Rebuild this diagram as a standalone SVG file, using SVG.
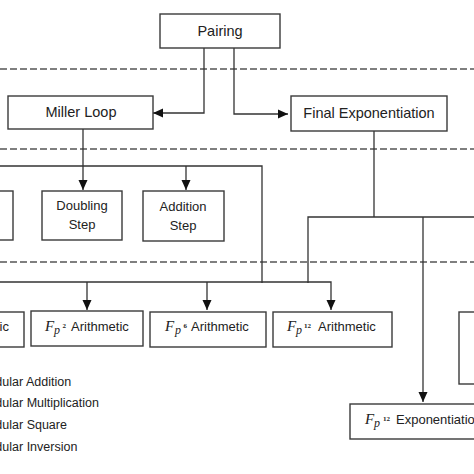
<svg xmlns="http://www.w3.org/2000/svg" width="474" height="474" viewBox="0 0 474 474">
<defs>
<marker id="ah" markerWidth="11" markerHeight="11" refX="10" refY="5" orient="auto" markerUnits="userSpaceOnUse">
<path d="M0,0.5 L10,5 L0,9.5 Z" fill="#111"/>
</marker>
<style>
.box{fill:#fff;stroke:#3a3a3a;stroke-width:1.4}
.t{font-family:"Liberation Sans",Arial,sans-serif;fill:#222}
.big{font-size:14.5px}
.mid{font-size:13px}
.m{font-family:"Liberation Serif","DejaVu Serif",serif;font-style:italic;fill:#222}
.sup{font-family:"Liberation Serif","DejaVu Serif",serif;font-weight:bold;fill:#222}
.dash{stroke:#555;stroke-width:1.4;stroke-dasharray:7,3;fill:none}
.con{stroke:#333;stroke-width:1.3;fill:none}
</style>
</defs>
<rect width="474" height="474" fill="#fff"/>
<g id="separators">
<line class="dash" x1="0" y1="69" x2="474" y2="69"/>
<line class="dash" x1="0" y1="149" x2="474" y2="149"/>
<line class="dash" x1="0" y1="262" x2="474" y2="262"/>
</g>
<g id="connectors">
<path class="con" d="M204,48 V113 H153" marker-end="url(#ah)"/>
<path class="con" d="M234,48 V114 H288" marker-end="url(#ah)"/>
<path class="con" d="M83,129 V190" marker-end="url(#ah)"/>
<path class="con" d="M-5,166 H262 V283"/>
<path class="con" d="M186,166 V190" marker-end="url(#ah)"/>
<path class="con" d="M374,131 V217"/>
<path class="con" d="M308,283 V217 H480"/>
<path class="con" d="M423,217 V402" marker-end="url(#ah)"/>
<path class="con" d="M-5,282 H331 V310" marker-end="url(#ah)"/>
<path class="con" d="M87,282 V310" marker-end="url(#ah)"/>
<path class="con" d="M207,282 V310" marker-end="url(#ah)"/>
</g>
<g id="pairing">
<rect class="box" x="160" y="14" width="120" height="34"/>
<text class="t big" x="220" y="36" text-anchor="middle">Pairing</text>
</g>
<g id="miller-loop">
<rect class="box" x="8" y="96" width="145" height="33"/>
<text class="t big" x="81" y="117" text-anchor="middle">Miller Loop</text>
</g>
<g id="final-exponentiation">
<rect class="box" x="291" y="96" width="156" height="35"/>
<text class="t big" x="369" y="118" text-anchor="middle">Final Exponentiation</text>
</g>
<g id="left-step">
<rect class="box" x="-40" y="191" width="53" height="49"/>
</g>
<g id="doubling-step">
<rect class="box" x="42" y="191" width="80" height="49"/>
<text class="t mid" x="82" y="210" text-anchor="middle">Doubling</text>
<text class="t mid" x="82" y="229" text-anchor="middle">Step</text>
</g>
<g id="addition-step">
<rect class="box" x="143" y="191" width="81" height="50"/>
<text class="t mid" x="183" y="211" text-anchor="middle">Addition</text>
<text class="t mid" x="183" y="230" text-anchor="middle">Step</text>
</g>
<g id="fp-arithmetic">
<rect class="box" x="-60" y="312" width="84" height="35"/>
<text class="t mid" x="9" y="331" text-anchor="end">Arithmetic</text>
</g>
<g id="fp2-arithmetic">
<rect class="box" x="31" y="311" width="112" height="35"/>
<text x="45" y="331"><tspan class="m" font-size="15">F</tspan><tspan class="m" font-size="12" x="54" y="334">p</tspan><tspan class="sup" font-size="7" x="62.5" y="328">2</tspan><tspan class="t mid" x="71" y="331">Arithmetic</tspan></text>
</g>
<g id="fp6-arithmetic">
<rect class="box" x="150" y="312" width="116" height="35"/>
<text x="165" y="331"><tspan class="m" font-size="15">F</tspan><tspan class="m" font-size="12" x="175" y="334">p</tspan><tspan class="sup" font-size="7" x="183.5" y="328">6</tspan><tspan class="t mid" x="191" y="331">Arithmetic</tspan></text>
</g>
<g id="fp12-arithmetic">
<rect class="box" x="273" y="312" width="119" height="35"/>
<text x="287" y="331"><tspan class="m" font-size="15">F</tspan><tspan class="m" font-size="12" x="296" y="334">p</tspan><tspan class="sup" font-size="7" x="304" y="328">12</tspan><tspan class="t mid" x="318" y="331">Arithmetic</tspan></text>
</g>
<g id="right-box">
<rect class="box" x="459" y="312" width="30" height="72"/>
</g>
<g id="fp12-exponentiation">
<rect class="box" x="350" y="404" width="140" height="35"/>
<text x="365" y="424"><tspan class="m" font-size="15">F</tspan><tspan class="m" font-size="12" x="374" y="427">p</tspan><tspan class="sup" font-size="7" x="383" y="421">12</tspan><tspan class="t mid" x="396" y="424">Exponentiation</tspan></text>
</g>
<g id="legend">
<text class="t" font-size="12.5" x="-22" y="386">Modular Addition</text>
<text class="t" font-size="12.5" x="-22" y="407">Modular Multiplication</text>
<text class="t" font-size="12.5" x="-22" y="429">Modular Square</text>
<text class="t" font-size="12.5" x="-22" y="451">Modular Inversion</text>
</g>
</svg>
